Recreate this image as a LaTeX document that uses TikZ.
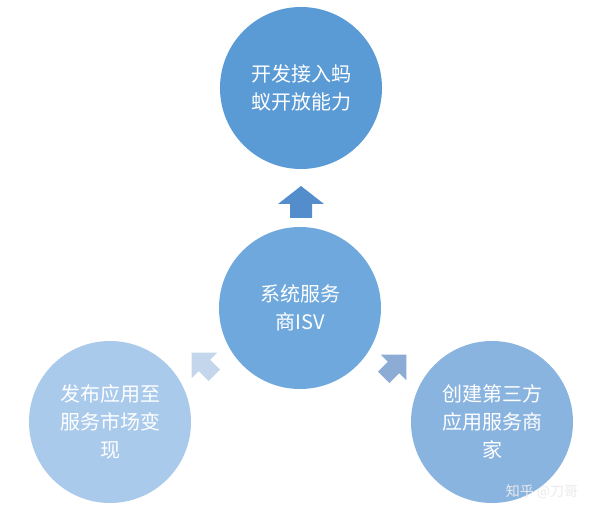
\documentclass[tikz,border=0pt]{standalone}
\usepackage{fontspec}
\setmainfont{Noto Sans CJK SC}
\definecolor{ctop}{RGB}{91,155,213}
\definecolor{cmid}{RGB}{110,168,220}
\definecolor{cleft}{RGB}{170,202,235}
\definecolor{cright}{RGB}{138,180,224}
\definecolor{aup}{RGB}{84,141,204}
\definecolor{aleft}{RGB}{196,214,236}
\definecolor{aright}{RGB}{140,172,214}
\begin{document}
\begin{tikzpicture}[x=1pt,y=-1pt]
\tikzset{bub/.style={circle,minimum size=162pt,inner sep=0pt,text=white,align=center,font=\fontsize{20}{28}\selectfont}}
\useasboundingbox[fill=white] (0,0) rectangle (600,521);
\node[bub,fill=ctop] (top) at (301,88) {开发接入蚂\\蚁开放能力};
\node[bub,fill=cmid] (mid) at (300,308) {系统服务\\商ISV};
\node[bub,fill=cleft] (left) at (110,422) {发布应用至\\服务市场变\\现};
\node[bub,fill=cright] (right) at (492,422) {创建第三方\\应用服务商\\家};
\fill[aup] (290,218) -- (290,204) -- (278,204) -- (301,186) -- (324,204) -- (312,204) -- (312,218) -- cycle;
\begin{scope}[shift={(203,364)},rotate=135]
\fill[aleft] (-16,-8) -- (-2,-8) -- (-2,-18) -- (16,0) -- (-2,18) -- (-2,8) -- (-16,8) -- cycle;
\end{scope}
\begin{scope}[shift={(395,366)},rotate=45]
\fill[aright] (-16,-8) -- (-2,-8) -- (-2,-18) -- (16,0) -- (-2,18) -- (-2,8) -- (-16,8) -- cycle;
\end{scope}
\node[text=white!92!black,font=\fontsize{14}{16}\selectfont] (wm) at (542,492) {知乎 @刀哥};
\end{tikzpicture}
\end{document}
